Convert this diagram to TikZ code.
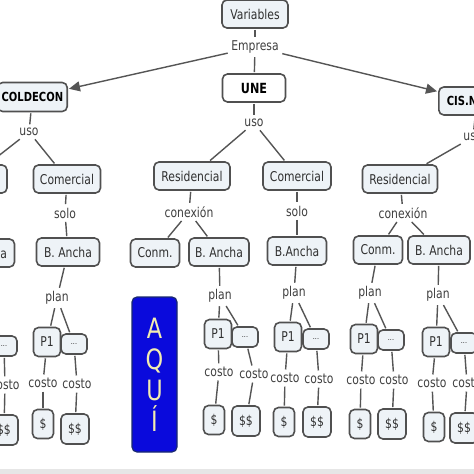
\documentclass[tikz,border=0pt]{standalone}
\usepackage{fontspec}
\newfontfamily\mapfont{DejaVu Sans}[FakeStretch=0.8]
\usetikzlibrary{arrows.meta}
\definecolor{linegray}{HTML}{555555}
\definecolor{boxline}{HTML}{505050}
\definecolor{boxfill}{HTML}{EEF3F7}
\definecolor{boxtext}{HTML}{303030}
\definecolor{linktext}{HTML}{404040}
\definecolor{aquiblue}{HTML}{0A0ADC}
\definecolor{aquiline}{HTML}{1A2A70}
\definecolor{aquitext}{HTML}{F3EDB0}
\definecolor{stripgray}{HTML}{E6E6E6}
\begin{document}
\begin{tikzpicture}[x=1pt, y=-1pt,
    concept/.style={draw=boxline, line width=1.6pt, rounded corners=5pt, fill=boxfill,
        text=boxtext, font=\mapfont\fontsize{13.5}{15}\selectfont,
        minimum height=28pt, inner xsep=6pt, inner ysep=2pt},
    company/.style={concept, font=\mapfont\bfseries\fontsize{12.5}{15}\selectfont, text=black},
    plannode/.style={concept, inner xsep=3pt, minimum width=27pt, minimum height=29pt},
    dotsnode/.style={concept, inner xsep=3pt, minimum width=26pt, minimum height=20pt},
    onecost/.style={concept, inner xsep=3pt, minimum width=21pt, minimum height=29pt},
    twocost/.style={concept, inner xsep=3pt, minimum width=28pt, minimum height=30pt},
    linkword/.style={text=linktext, font=\mapfont\fontsize{13.5}{15}\selectfont, inner sep=2.5pt},
    conn/.style={draw=linegray, line width=1.4pt, shorten <=1pt, shorten >=1pt},
    arr/.style={conn, -{Triangle[length=11pt,width=10pt]}}]
    \path[use as bounding box, fill=white] (0,0) rectangle (474,474);
    \fill[stripgray] (0,469) rectangle (474,474);
    % top of the map
    \node[concept, minimum width=66pt] (var) at (255,14) {Variables};
    \node[linkword] (empresa) at (255,47) {Empresa};
    \node[concept, fill=white, minimum width=63pt, font=\mapfont\bfseries\fontsize{14}{16}\selectfont, text=black] (une) at (254,88) {UNE};
    \node[company, anchor=east, inner xsep=4pt, minimum height=29pt] (col) at (68,97) {COLDECON};
    \node[company, anchor=west, inner xsep=8pt, text width=60pt, align=left] (cis) at (438,101) {CIS.N};
    \draw[conn] (var) -- (empresa);
    \draw[conn] (empresa) -- (une);
    \draw[arr] (empresa) -- (col);
    \draw[arr] (empresa) -- (cis);
    % uso
    \node[linkword] (uso1) at (29,132) {uso};
    \node[linkword] (uso2) at (254,123) {uso};
    \node[linkword] (uso3) at (473,137) {uso};
    \node[concept, minimum width=76pt] (resL) at (-31,179) {Residencial};
    \node[concept, minimum width=67pt] (com1) at (67,179) {Comercial};
    \node[concept, minimum width=76pt] (res2) at (192,176) {Residencial};
    \node[concept, minimum width=68pt] (com2) at (297,176) {Comercial};
    \node[concept, minimum width=75pt] (res3) at (400,179) {Residencial};
    \draw[conn] (col) -- (uso1);
    \draw[conn] (uso1) -- (resL);
    \draw[conn] (uso1) -- (com1);
    \draw[conn] (une) -- (uso2);
    \draw[conn] (uso2) -- (res2);
    \draw[conn] (uso2) -- (com2);
    \draw[conn] (cis) -- (uso3);
    \draw[conn] (uso3) -- (res3);
    % solo / conexion
    \node[linkword] (solo1) at (65,213) {solo};
    \node[linkword] (cx2) at (189,212) {conexión};
    \node[linkword] (solo2) at (297,211) {solo};
    \node[linkword] (cx3) at (403,213) {conexión};
    \node[concept, minimum width=63pt] (baL) at (-17,253) {B. Ancha};
    \node[concept, minimum width=63pt] (ba1) at (68,252) {B. Ancha};
    \node[concept, minimum width=49pt] (conm2) at (155,253) {Conm.};
    \node[concept, minimum width=58pt] (ba2) at (219,252) {B. Ancha};
    \node[concept, minimum width=59pt] (ba3) at (297,251) {B.Ancha};
    \node[concept, minimum width=49pt] (conm3) at (378,250) {Conm.};
    \node[concept, minimum width=62pt] (ba4) at (439,250) {B. Ancha};
    \draw[conn] (com1) -- (solo1);
    \draw[conn] (solo1) -- (ba1);
    \draw[conn] (res2) -- (cx2);
    \draw[conn] (cx2) -- (conm2);
    \draw[conn] (cx2) -- (ba2);
    \draw[conn] (com2) -- (solo2);
    \draw[conn] (solo2) -- (ba3);
    \draw[conn] (res3) -- (cx3);
    \draw[conn] (cx3) -- (conm3);
    \draw[conn] (cx3) -- (ba4);
    % plan
    \coordinate (planL) at (-14,300);
    \node[linkword] (plan1) at (57,298) {plan};
    \node[linkword] (plan2) at (220,296) {plan};
    \node[linkword] (plan3) at (294,293) {plan};
    \node[linkword] (plan4) at (370,293) {plan};
    \node[linkword] (plan5) at (438,295) {plan};
    \draw[conn] (ba1) -- (plan1);
    \draw[conn] (ba2) -- (plan2);
    \draw[conn] (ba3) -- (plan3);
    \draw[conn] (conm3) -- (plan4);
    \draw[conn] (ba4) -- (plan5);
    \node[dotsnode] (dotL) at (4,346) {\fontsize{8}{8}\selectfont...};
    \node[plannode] (p1a) at (47,342) {P1};
    \node[dotsnode] (dota) at (74,344) {\fontsize{8}{8}\selectfont...};
    \node[plannode] (p1b) at (218,334) {P1};
    \node[dotsnode] (dotb) at (245,337) {\fontsize{8}{8}\selectfont...};
    \node[plannode] (p1c) at (288,337) {P1};
    \node[dotsnode] (dotc) at (316,339) {\fontsize{8}{8}\selectfont...};
    \node[plannode] (p1d) at (364,339) {P1};
    \node[dotsnode] (dotd) at (391,340) {\fontsize{8}{8}\selectfont...};
    \node[plannode] (p1e) at (436,342) {P1};
    \node[dotsnode] (dote) at (464,343) {\fontsize{8}{8}\selectfont...};
    \draw[conn] (planL) -- (dotL);
    \draw[conn] (plan1) -- (p1a);
    \draw[conn] (plan1) -- (dota);
    \draw[conn] (plan2) -- (p1b);
    \draw[conn] (plan2) -- (dotb);
    \draw[conn] (plan3) -- (p1c);
    \draw[conn] (plan3) -- (dotc);
    \draw[conn] (plan4) -- (p1d);
    \draw[conn] (plan4) -- (dotd);
    \draw[conn] (plan5) -- (p1e);
    \draw[conn] (plan5) -- (dote);
    % costo
    \node[linkword] (cL) at (5,385) {costo};
    \node[linkword] (ca1) at (43,383) {costo};
    \node[linkword] (cb1) at (77,384) {costo};
    \node[linkword] (ca2) at (219,372) {costo};
    \node[linkword] (cb2) at (254,374) {costo};
    \node[linkword] (ca3) at (285,378) {costo};
    \node[linkword] (cb3) at (319,379) {costo};
    \node[linkword] (ca4) at (361,380) {costo};
    \node[linkword] (cb4) at (394,380) {costo};
    \node[linkword] (ca5) at (432,383) {costo};
    \node[linkword] (cb5) at (467,383) {costo};
    \node[twocost] (ddL) at (4,430) {\$\$};
    \node[onecost] (da1) at (43,424) {\$};
    \node[twocost] (dda1) at (75,429) {\$\$};
    \node[onecost] (da2) at (214,420) {\$};
    \node[twocost] (dda2) at (246,421) {\$\$};
    \node[onecost] (da3) at (284,422) {\$};
    \node[twocost] (dda3) at (317,422) {\$\$};
    \node[onecost] (da4) at (360,424) {\$};
    \node[twocost] (dda4) at (392,424) {\$\$};
    \node[onecost] (da5) at (434,427) {\$};
    \node[twocost] (dda5) at (464,428) {\$\$};
    \draw[conn] (dotL) -- (cL);
    \draw[conn] (cL) -- (ddL);
    \draw[conn] (p1a) -- (ca1);
    \draw[conn] (ca1) -- (da1);
    \draw[conn] (dota) -- (cb1);
    \draw[conn] (cb1) -- (dda1);
    \draw[conn] (p1b) -- (ca2);
    \draw[conn] (ca2) -- (da2);
    \draw[conn] (dotb) -- (cb2);
    \draw[conn] (cb2) -- (dda2);
    \draw[conn] (p1c) -- (ca3);
    \draw[conn] (ca3) -- (da3);
    \draw[conn] (dotc) -- (cb3);
    \draw[conn] (cb3) -- (dda3);
    \draw[conn] (p1d) -- (ca4);
    \draw[conn] (ca4) -- (da4);
    \draw[conn] (dotd) -- (cb4);
    \draw[conn] (cb4) -- (dda4);
    \draw[conn] (p1e) -- (ca5);
    \draw[conn] (ca5) -- (da5);
    \draw[conn] (dote) -- (cb5);
    \draw[conn] (cb5) -- (dda5);
    % the blue sign
    \node[draw=aquiline, line width=1.2pt, fill=aquiblue, rounded corners=5pt,
        minimum width=45pt, minimum height=155pt, text=aquitext, align=center,
        font=\mapfont\fontsize{28}{31}\selectfont] (aqui) at (154.5,374.5) {A\\Q\\U\\Í};
\end{tikzpicture}
\end{document}
